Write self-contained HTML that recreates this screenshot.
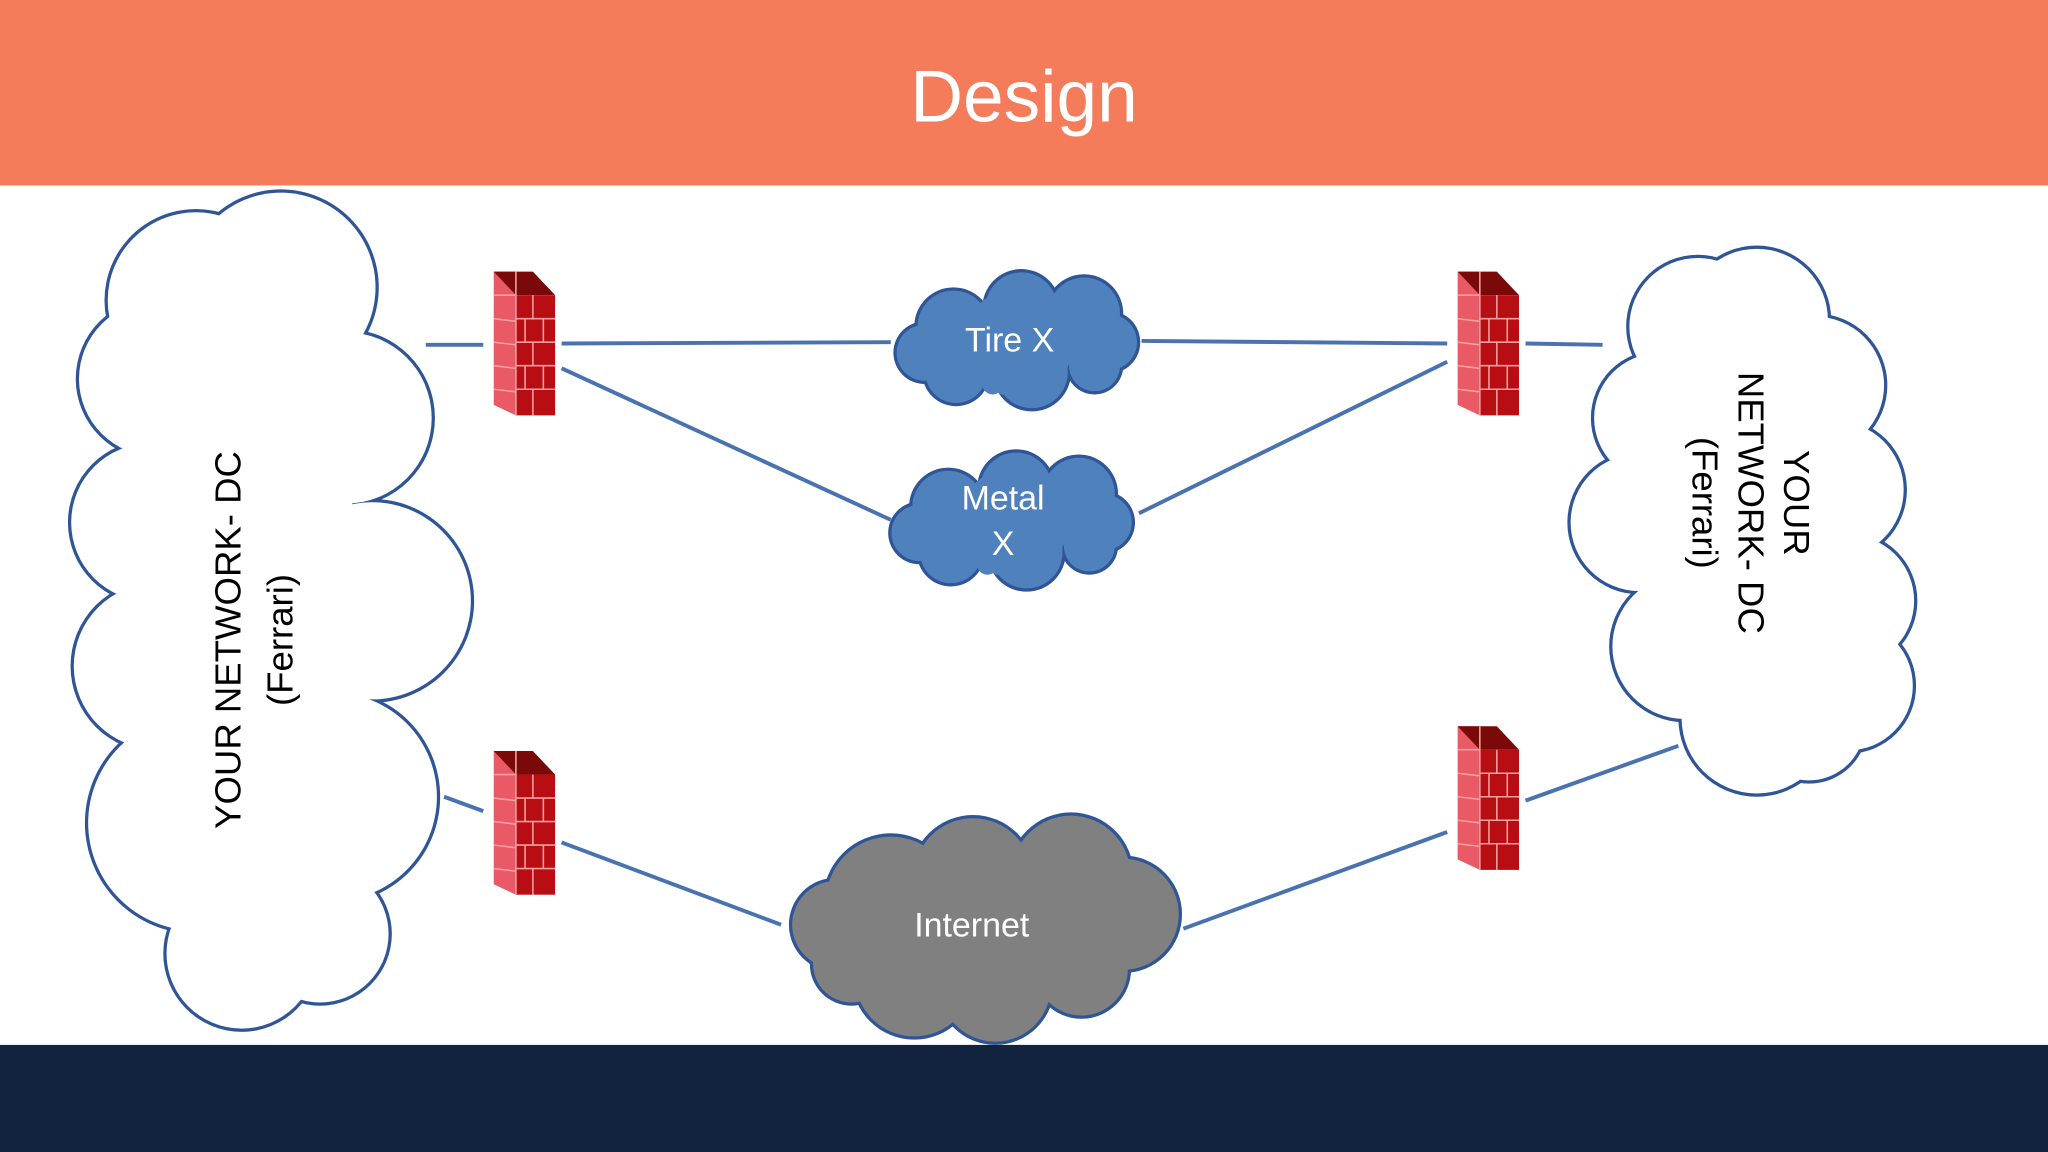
<!DOCTYPE html>
<html><head><meta charset="utf-8"><style>
html,body{margin:0;padding:0;background:#fff;}
svg{display:block;}
text{font-family:"Liberation Sans",sans-serif;}
</style></head><body>
<svg width="2048" height="1152" viewBox="0 0 1568 882" xmlns="http://www.w3.org/2000/svg">
<defs>
<g id="fw">
  <polygon points="0,0 17,0 17,110 0,102" fill="#e95a66"/>
  <polygon points="0,0 30,0 47,18 17,18" fill="#7a0a0a"/>
  <rect x="17" y="18" width="30" height="92" fill="#b80d12"/>
  <g stroke="#f3a0a0" stroke-width="1.2">
    <line x1="17" y1="36" x2="47" y2="36"/><line x1="17" y1="54" x2="47" y2="54"/>
    <line x1="17" y1="72" x2="47" y2="72"/><line x1="17" y1="90" x2="47" y2="90"/>
    <line x1="30" y1="18" x2="30" y2="36"/><line x1="24" y1="36" x2="24" y2="54"/><line x1="38" y1="36" x2="38" y2="54"/>
    <line x1="30" y1="54" x2="30" y2="72"/><line x1="24" y1="72" x2="24" y2="90"/><line x1="38" y1="72" x2="38" y2="90"/>
    <line x1="30" y1="90" x2="30" y2="110"/>
    <line x1="0" y1="18" x2="17" y2="18"/><line x1="0" y1="36" x2="17" y2="38"/><line x1="0" y1="54" x2="17" y2="56"/>
    <line x1="0" y1="72" x2="17" y2="74"/><line x1="0" y1="90" x2="17" y2="92"/>
    <line x1="17" y1="0" x2="17" y2="110"/>
  </g>
</g>
</defs>
<rect x="0" y="0" width="1568" height="142" fill="#f47c5a"/>
<text x="784" y="93" font-size="56" fill="#fff" text-anchor="middle">Design</text>
<rect x="0" y="800" width="1568" height="82" fill="#12233f"/>

<g stroke="#4a72b0" stroke-width="3" fill="none">
<line x1="326" y1="264" x2="370" y2="264"/>
<line x1="430" y1="263" x2="682" y2="262"/>
<line x1="430" y1="282" x2="682" y2="398"/>
<line x1="874" y1="261" x2="1108" y2="263"/>
<line x1="872" y1="393" x2="1108" y2="277"/>
<line x1="1168" y1="263" x2="1227" y2="264"/>
<line x1="340" y1="610" x2="370" y2="621"/>
<line x1="430" y1="645" x2="598" y2="708"/>
<line x1="906" y1="711" x2="1108" y2="637"/>
<line x1="1168" y1="613" x2="1285" y2="571"/>
</g>

<!-- left cloud -->
<g fill="#2f5597">
<circle cx="150" cy="230" r="70"/><circle cx="215" cy="220" r="75"/><circle cx="265" cy="320" r="68"/>
<circle cx="120" cy="290" r="62"/><circle cx="115" cy="400" r="63"/><circle cx="285" cy="460" r="78"/>
<circle cx="120" cy="510" r="66"/><circle cx="255" cy="610" r="82"/><circle cx="150" cy="630" r="85"/>
<circle cx="185" cy="730" r="60"/><circle cx="245" cy="715" r="55"/>
</g>
<g fill="#fff">
<circle cx="150" cy="230" r="67.5"/><circle cx="215" cy="220" r="72.5"/><circle cx="265" cy="320" r="65.5"/>
<circle cx="120" cy="290" r="59.5"/><circle cx="115" cy="400" r="60.5"/><circle cx="285" cy="460" r="75.5"/>
<circle cx="120" cy="510" r="63.5"/><circle cx="255" cy="610" r="79.5"/><circle cx="150" cy="630" r="82.5"/>
<circle cx="185" cy="730" r="57.5"/><circle cx="245" cy="715" r="52.5"/>
<circle cx="200" cy="460" r="100"/><rect x="140" y="240" width="110" height="460"/>
<circle cx="264" cy="384" r="6"/>
</g>
<text transform="translate(184,490) rotate(-90)" font-size="28" text-anchor="middle">YOUR NETWORK- DC</text>
<text transform="translate(224,490) rotate(-90)" font-size="28" text-anchor="middle">(Ferrari)</text>

<!-- right cloud -->
<g fill="#2f5597">
<circle cx="1300" cy="250" r="55"/><circle cx="1345" cy="245" r="57"/><circle cx="1390" cy="295" r="55"/>
<circle cx="1270" cy="320" r="52"/><circle cx="1255" cy="400" r="55"/><circle cx="1405" cy="375" r="55"/>
<circle cx="1415" cy="460" r="53"/><circle cx="1290" cy="495" r="58"/><circle cx="1415" cy="525" r="52"/>
<circle cx="1345" cy="550" r="60"/><circle cx="1385" cy="555" r="45"/>
</g>
<g fill="#fff">
<circle cx="1300" cy="250" r="52.5"/><circle cx="1345" cy="245" r="54.5"/><circle cx="1390" cy="295" r="52.5"/>
<circle cx="1270" cy="320" r="49.5"/><circle cx="1255" cy="400" r="52.5"/><circle cx="1405" cy="375" r="52.5"/>
<circle cx="1415" cy="460" r="50.5"/><circle cx="1290" cy="495" r="55.5"/><circle cx="1415" cy="525" r="49.5"/>
<circle cx="1345" cy="550" r="57.5"/><circle cx="1385" cy="555" r="42.5"/>
<circle cx="1335" cy="400" r="90"/><rect x="1290" y="260" width="90" height="280"/>
</g>
<text transform="translate(1366,385) rotate(90)" font-size="28" text-anchor="middle">YOUR</text>
<text transform="translate(1331,385) rotate(90)" font-size="28" text-anchor="middle">NETWORK- DC</text>
<text transform="translate(1296,385) rotate(90)" font-size="28" text-anchor="middle">(Ferrari)</text>

<!-- Tire X -->
<g id="tx">
<g fill="#2f5597">
<circle cx="730" cy="250" r="30"/><circle cx="782" cy="236" r="30"/><circle cx="830" cy="240" r="30"/>
<circle cx="849" cy="262" r="24"/><circle cx="708" cy="270" r="24"/><circle cx="732" cy="285" r="26"/>
<circle cx="790" cy="285" r="30"/><circle cx="838" cy="280" r="22"/>
</g>
<g fill="#4f81bd">
<circle cx="730" cy="250" r="27.5"/><circle cx="782" cy="236" r="27.5"/><circle cx="830" cy="240" r="27.5"/>
<circle cx="849" cy="262" r="21.5"/><circle cx="708" cy="270" r="21.5"/><circle cx="732" cy="285" r="23.5"/>
<circle cx="790" cy="285" r="27.5"/><circle cx="838" cy="280" r="19.5"/><circle cx="780" cy="262" r="42"/>
<circle cx="818" cy="266" r="10"/><circle cx="760" cy="294" r="8"/>
</g>
</g>
<text x="773" y="269" font-size="26" fill="#fff" text-anchor="middle">Tire X</text>
<use href="#tx" transform="translate(-4,138)"/>
<text x="768" y="390" font-size="26" fill="#fff" text-anchor="middle">Metal</text>
<text x="768" y="425" font-size="26" fill="#fff" text-anchor="middle">X</text>

<!-- Internet -->
<g fill="#2f5597">
<circle cx="682" cy="690" r="52"/><circle cx="640" cy="708" r="36"/><circle cx="745" cy="672" r="48"/>
<circle cx="820" cy="670" r="48"/><circle cx="860" cy="700" r="45"/><circle cx="700" cy="748" r="48"/>
<circle cx="762" cy="755" r="45"/><circle cx="828" cy="742" r="38"/><circle cx="652" cy="738" r="32"/>
</g>
<g fill="#808080">
<circle cx="682" cy="690" r="49.5"/><circle cx="640" cy="708" r="33.5"/><circle cx="745" cy="672" r="45.5"/>
<circle cx="820" cy="670" r="45.5"/><circle cx="860" cy="700" r="42.5"/><circle cx="700" cy="748" r="45.5"/>
<circle cx="762" cy="755" r="42.5"/><circle cx="828" cy="742" r="35.5"/><circle cx="652" cy="738" r="29.5"/>
<circle cx="758" cy="712" r="70"/>
</g>
<text x="744" y="717" font-size="26" fill="#fff" text-anchor="middle">Internet</text>

<use href="#fw" transform="translate(378,208)"/>
<use href="#fw" transform="translate(378,575)"/>
<use href="#fw" transform="translate(1116,208)"/>
<use href="#fw" transform="translate(1116,556)"/>
</svg>
</body></html>
